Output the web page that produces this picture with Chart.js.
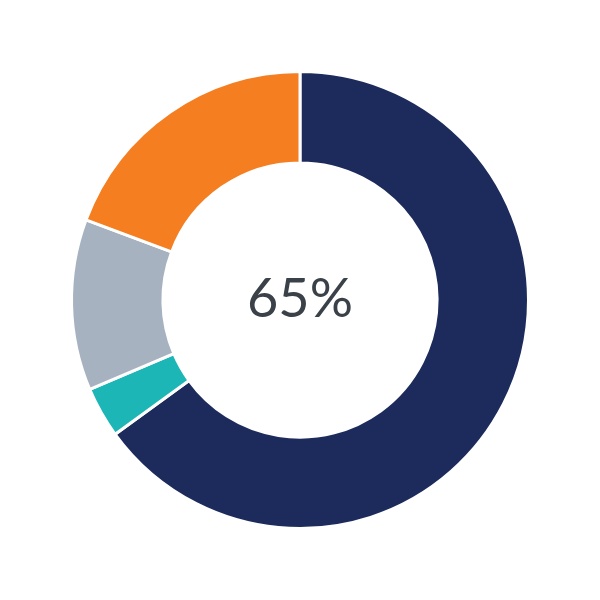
<!DOCTYPE html>
<html>
<head>
<meta charset="utf-8">
<script src="https://cdn.jsdelivr.net/npm/chart.js@4"></script>
<style>
html,body{margin:0;padding:0;background:#fff;}
#wrap{width:600px;height:600px;}
</style>
</head>
<body>
<div id="wrap"><canvas id="c" width="600" height="600"></canvas></div>
<script>
const categories = ["Navy", "Teal", "Gray", "Orange"];
const values = [65, 3.6, 12.1, 19.3];
const colors = ["#1c2b5b", "#1db6b7", "#a7b2c1", "#f47e20"];
const centerLabel = "65%";

const centerText = {
  id: 'centerText',
  afterDraw(chart) {
    const meta = chart.getDatasetMeta(0);
    const arc = meta.data[0];
    const ctx = chart.ctx;
    ctx.save();
    ctx.font = '400 54px Lato';
    ctx.fillStyle = '#3b4149';
    ctx.textAlign = 'center';
    ctx.textBaseline = 'middle';
    ctx.fillText(centerLabel, arc.x, arc.y);
    ctx.restore();
  }
};

new Chart(document.getElementById('c'), {
  type: 'doughnut',
  data: {
    labels: categories,
    datasets: [{
      data: values,
      backgroundColor: colors,
      borderColor: '#ffffff',
      borderWidth: 3
    }]
  },
  options: {
    responsive: false,
    animation: false,
    cutout: '60%',
    layout: { padding: 70 },
    plugins: {
      legend: { display: false },
      tooltip: { enabled: false }
    }
  },
  plugins: [centerText]
});
</script>
</body>
</html>
